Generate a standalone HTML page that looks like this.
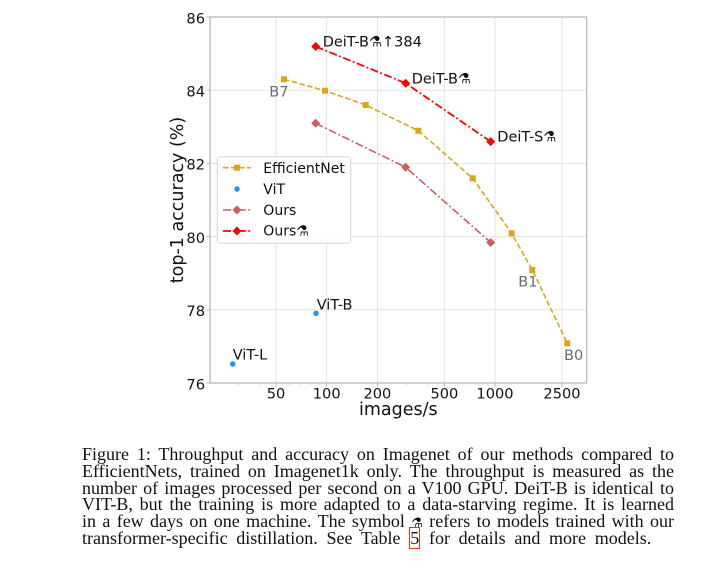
<!DOCTYPE html>
<html>
<head>
<meta charset="utf-8">
<style>
  html, body { margin:0; padding:0; background:#fff; }
  body { width:720px; height:579px; position:relative; overflow:hidden; }
  svg { position:absolute; left:0; top:0; }
  .cap { position:absolute; left:82px; top:446.3px; width:592px;
         font-family:"Liberation Serif", "DejaVu Serif", serif; font-size:18px; line-height:16.67px; color:#111; }
  .cap div { text-align:justify; text-align-last:justify; white-space:normal; height:16.67px; }
  .cap div.last { text-align-last:left; word-spacing:4.2px; }
  .box { border:1px solid #e8301c; }
  .alem { font-family:"DejaVu Sans",sans-serif; font-size:13px; }
</style>
</head>
<body>
<svg width="720" height="440" viewBox="0 0 720 440" xmlns="http://www.w3.org/2000/svg" font-family="DejaVu Sans, Liberation Sans, sans-serif">
  <!-- grid -->
  <g stroke="#e3e3e3" stroke-width="1">
    <line x1="276" y1="17" x2="276" y2="383"/>
    <line x1="326.7" y1="17" x2="326.7" y2="383"/>
    <line x1="377.4" y1="17" x2="377.4" y2="383"/>
    <line x1="444.4" y1="17" x2="444.4" y2="383"/>
    <line x1="495" y1="17" x2="495" y2="383"/>
    <line x1="562" y1="17" x2="562" y2="383"/>
    <line x1="210" y1="90.2" x2="586.7" y2="90.2"/>
    <line x1="210" y1="163.4" x2="586.7" y2="163.4"/>
    <line x1="210" y1="236.6" x2="586.7" y2="236.6"/>
    <line x1="210" y1="309.8" x2="586.7" y2="309.8"/>
  </g>
  <!-- frame -->
  <rect x="210" y="17" width="376.7" height="366" fill="none" stroke="#b4b4b4" stroke-width="1.2"/>
  <!-- ticks -->
  <g stroke="#b4b4b4" stroke-width="1">
    <line x1="206.5" y1="17" x2="210" y2="17"/>
    <line x1="206.5" y1="90.2" x2="210" y2="90.2"/>
    <line x1="206.5" y1="163.4" x2="210" y2="163.4"/>
    <line x1="206.5" y1="236.6" x2="210" y2="236.6"/>
    <line x1="206.5" y1="309.8" x2="210" y2="309.8"/>
    <line x1="206.5" y1="383" x2="210" y2="383"/>
    <line x1="276" y1="383" x2="276" y2="386.5"/>
    <line x1="326.7" y1="383" x2="326.7" y2="386.5"/>
    <line x1="377.4" y1="383" x2="377.4" y2="386.5"/>
    <line x1="444.4" y1="383" x2="444.4" y2="386.5"/>
    <line x1="495" y1="383" x2="495" y2="386.5"/>
    <line x1="562" y1="383" x2="562" y2="386.5"/>
  </g>
  <g stroke="#c4c4c4" stroke-width="0.8">
    <line x1="238.7" y1="383" x2="238.7" y2="385"/>
    <line x1="259.7" y1="383" x2="259.7" y2="385"/>
    <line x1="289.3" y1="383" x2="289.3" y2="385"/>
    <line x1="300.6" y1="383" x2="300.6" y2="385"/>
    <line x1="310.4" y1="383" x2="310.4" y2="385"/>
    <line x1="318.9" y1="383" x2="318.9" y2="385"/>
    <line x1="407" y1="383" x2="407" y2="385"/>
    <line x1="427.9" y1="383" x2="427.9" y2="385"/>
    <line x1="457.7" y1="383" x2="457.7" y2="385"/>
    <line x1="469" y1="383" x2="469" y2="385"/>
    <line x1="478.7" y1="383" x2="478.7" y2="385"/>
    <line x1="487.3" y1="383" x2="487.3" y2="385"/>
    <line x1="545.7" y1="383" x2="545.7" y2="385"/>
    <line x1="575.3" y1="383" x2="575.3" y2="385"/>
  </g>
  <!-- tick labels -->
  <g font-size="14.6" fill="#111" text-anchor="end">
    <text x="205" y="23.3">86</text>
    <text x="205" y="96.5">84</text>
    <text x="205" y="169.7">82</text>
    <text x="205" y="242.9">80</text>
    <text x="205" y="316.1">78</text>
    <text x="205" y="389.3">76</text>
  </g>
  <g font-size="14.6" fill="#111" text-anchor="middle">
    <text x="276" y="398.3">50</text>
    <text x="326.7" y="398.3">100</text>
    <text x="377.4" y="398.3">200</text>
    <text x="444.4" y="398.3">500</text>
    <text x="495" y="398.3">1000</text>
    <text x="562" y="398.3">2500</text>
  </g>
  <!-- axis labels -->
  <text x="398.3" y="415" font-size="17.5" text-anchor="middle" fill="#111">images/s</text>
  <text transform="translate(183,200) rotate(-90)" font-size="17.5" text-anchor="middle" fill="#111">top-1 accuracy (%)</text>

  <!-- EfficientNet -->
  <polyline points="284,79.3 325,90.7 365.7,105 418.3,130.7 472.7,178.3 511.7,233.3 532.3,270 567.3,343.3"
            fill="none" stroke="#DAA520" stroke-width="1.6" stroke-dasharray="5.5 2.5"/>
  <g fill="#DAA520">
    <rect x="281" y="76.3" width="6" height="6"/>
    <rect x="322" y="87.7" width="6" height="6"/>
    <rect x="362.7" y="102" width="6" height="6"/>
    <rect x="415.3" y="127.7" width="6" height="6"/>
    <rect x="469.7" y="175.3" width="6" height="6"/>
    <rect x="508.7" y="230.3" width="6" height="6"/>
    <rect x="529.3" y="267" width="6" height="6"/>
    <rect x="564.3" y="340.3" width="6" height="6"/>
  </g>
  <!-- Ours -->
  <polyline points="315.7,123.3 405.7,167.3 490.7,242.5" fill="none" stroke="#CD5C5C" stroke-width="1.6" stroke-dasharray="8 2.5 1.8 2.5"/>
  <g fill="#CD5C5C">
    <polygon points="315.7,118.8 320.2,123.3 315.7,127.8 311.2,123.3"/>
    <polygon points="405.7,162.8 410.2,167.3 405.7,171.8 401.2,167.3"/>
    <polygon points="490.7,238 495.2,242.5 490.7,247 486.2,242.5"/>
  </g>
  <!-- Ours distilled -->
  <polyline points="315.7,46.5 405.7,83.2 490.7,141.6" fill="none" stroke="#FF0000" stroke-width="1.8" stroke-dasharray="8 2.5 1.8 2.5"/>
  <g fill="#FF0000">
    <polygon points="315.7,42 320.2,46.5 315.7,51 311.2,46.5"/>
    <polygon points="405.7,78.7 410.2,83.2 405.7,87.7 401.2,83.2"/>
    <polygon points="490.7,137.1 495.2,141.6 490.7,146.1 486.2,141.6"/>
  </g>
  <!-- ViT -->
  <g fill="#1E90FF">
    <circle cx="316" cy="313.3" r="2.7"/>
    <circle cx="232.7" cy="364" r="2.7"/>
  </g>
  <!-- annotations -->
  <g font-size="14.5" fill="#111">
    <text x="322.7" y="46.7">DeiT-B⚗↑384</text>
    <text x="411.7" y="83.3">DeiT-B⚗</text>
    <text x="497.3" y="141.7">DeiT-S⚗</text>
    <text x="316.7" y="309.3">ViT-B</text>
    <text x="232.7" y="359.5">ViT-L</text>
  </g>
  <g font-size="14.5" fill="#6b6b6b">
    <text x="269.3" y="96.7">B7</text>
    <text x="518.3" y="286.7">B1</text>
    <text x="564" y="360">B0</text>
  </g>

  <!-- legend -->
  <rect x="217.3" y="156.7" width="133.4" height="86.6" rx="3" ry="3" fill="#fff" fill-opacity="0.85" stroke="#d4d4d4" stroke-width="1"/>
  <line x1="223" y1="167.7" x2="251" y2="167.7" stroke="#DAA520" stroke-width="1.6" stroke-dasharray="5.5 2.5"/>
  <rect x="234" y="164.7" width="6" height="6" fill="#DAA520"/>
  <circle cx="237" cy="189" r="2.7" fill="#1E90FF"/>
  <line x1="223" y1="210" x2="251" y2="210" stroke="#CD5C5C" stroke-width="1.6" stroke-dasharray="8 2.5 1.8 2.5"/>
  <polygon points="237,205.5 241.5,210 237,214.5 232.5,210" fill="#CD5C5C"/>
  <line x1="223" y1="231" x2="251" y2="231" stroke="#FF0000" stroke-width="1.8" stroke-dasharray="8 2.5 1.8 2.5"/>
  <polygon points="237,226.5 241.5,231 237,235.5 232.5,231" fill="#FF0000"/>
  <g font-size="14" fill="#111">
    <text x="263.3" y="173">EfficientNet</text>
    <text x="263.3" y="194">ViT</text>
    <text x="263.3" y="215">Ours</text>
    <text x="263.3" y="235.7">Ours⚗</text>
  </g>
</svg>

<div class="cap">
  <div>Figure 1: Throughput and accuracy on Imagenet of our methods compared to</div>
  <div>EfficientNets, trained on Imagenet1k only. The throughput is measured as the</div>
  <div>number of images processed per second on a V100 GPU. DeiT-B is identical to</div>
  <div>VIT-B, but the training is more adapted to a data-starving regime. It is learned</div>
  <div>in a few days on one machine. The symbol <span class="alem">⚗</span> refers to models trained with our</div>
  <div class="last">transformer-specific distillation. See Table <span class="box">5</span> for details and more models.</div>
</div>
</body>
</html>
